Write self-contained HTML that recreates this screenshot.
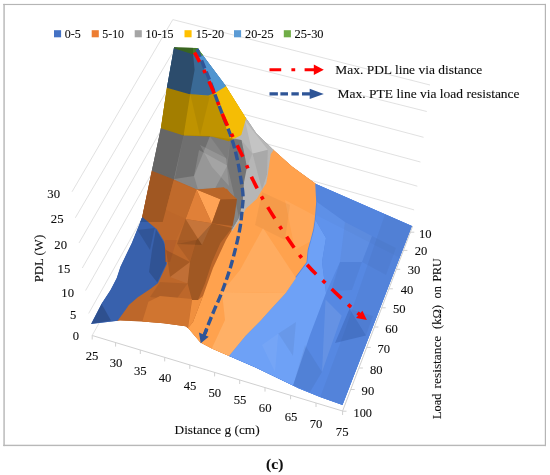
<!DOCTYPE html>
<html lang="en"><head><meta charset="utf-8"><title>Figure (c)</title>
<style>
html,body{margin:0;padding:0;background:#fff}
body{width:550px;height:475px;overflow:hidden}
svg{display:block}
</style></head>
<body>
<svg width="550" height="475" viewBox="0 0 550 475">
<defs><clipPath id="surf"><polygon points="174.0,47.5 197.6,48.0 202.7,55.0 225.5,85.5 245.5,117.5 256.5,133.5 273.0,149.5 292.0,166.5 316.0,184.0 412.0,226.0 342.5,405.0 320.0,397.0 299.0,388.5 277.3,378.0 255.5,367.5 229.0,356.0 211.8,348.4 200.4,342.5 188.5,328.5 185.5,326.2 163.6,323.3 142.0,321.5 120.0,320.5 91.0,324.0 101.5,303.8 110.5,290.0 116.7,278.0 120.5,266.4 126.0,255.0 131.8,243.0 137.0,230.0 142.0,217.8 152.0,170.0 161.0,127.5 167.0,87.0"/></clipPath><clipPath id="leftc"><polygon points="193.0,40.0 193.0,53.4 194.6,70.0 190.2,94.0 183.6,135.6 173.6,180.7 162.7,222.0 150.0,222.0 80.0,222.0 80.0,40.0"/></clipPath><clipPath id="rightc"><polygon points="196.5,40.0 197.0,53.0 214.5,94.0 229.5,137.5 241.5,140.0 247.0,167.0 244.0,182.0 242.7,202.0 239.0,218.0 232.0,230.0 226.0,240.0 213.0,268.0 203.0,296.0 193.0,322.0 188.0,328.0 186.0,340.0 200.0,430.0 430.0,430.0 430.0,40.0"/></clipPath></defs>
<rect x="0" y="0" width="550" height="475" fill="#fff"/>
<rect x="3.2" y="3.9" width="1.8" height="442.2" fill="#c6c6c6"/>
<rect x="3.2" y="3.9" width="542.8" height="1.15" fill="#b5b5b5"/>
<rect x="544.8" y="3.9" width="1.2" height="442.2" fill="#b5b5b5"/>
<rect x="3.2" y="444.7" width="542.8" height="1.4" fill="#b8b8b8"/>
<polyline points="92.2,335.4 186.0,168.0 410.8,233.0" fill="none" stroke="#d9d9d9" stroke-width="0.8"/>
<polyline points="88.7,313.4 184.0,144.0 414.1,209.9" fill="none" stroke="#d9d9d9" stroke-width="0.8"/>
<polyline points="85.6,290.5 182.0,120.0 417.3,186.2" fill="none" stroke="#d9d9d9" stroke-width="0.8"/>
<polyline points="82.3,268.0 180.0,97.0 420.4,162.0" fill="none" stroke="#d9d9d9" stroke-width="0.8"/>
<polyline points="79.0,243.0 177.5,72.0 423.6,137.3" fill="none" stroke="#d9d9d9" stroke-width="0.8"/>
<polyline points="75.3,217.8 175.0,48.5 426.8,111.5" fill="none" stroke="#d9d9d9" stroke-width="0.8"/>
<polyline points="72.0,191.8 172.8,19.6 430.0,85.0" fill="none" stroke="#d9d9d9" stroke-width="0.8"/>
<g clip-path="url(#surf)">
<g>
<polygon points="152.0,170.0 174.2,178.8 197.8,189.0 227.3,187.7 234.7,198.0 234.7,215.4 232.0,230.0 240.5,218.0 245.0,208.5 256.0,198.5 261.5,189.0 265.5,183.0 267.0,174.4 270.0,153.7 273.0,149.5 292.0,166.5 316.0,184.0 317.0,202.0 315.5,220.0 314.0,230.0 311.0,241.0 308.5,250.0 307.3,262.6 295.9,277.8 285.8,293.0 270.6,309.4 260.5,320.7 245.4,336.0 229.0,356.0 211.8,348.4 200.4,342.5 188.5,328.5 185.5,326.2 163.6,323.3 142.0,321.5 120.0,320.5 116.2,321.3 124.8,309.5 128.0,304.7 138.2,296.0 149.8,288.3 157.3,282.6 166.0,264.0 165.6,250.0 163.5,242.0 156.0,229.5 142.0,217.8" fill="#bd672a" stroke="#bd672a" stroke-width="1.6" stroke-linejoin="round"/>
<polygon points="316.0,184.0 317.0,202.0 315.5,220.0 314.0,230.0 311.0,241.0 308.5,250.0 307.3,262.6 295.9,277.8 285.8,293.0 270.6,309.4 260.5,320.7 245.4,336.0 229.0,356.0 255.5,367.5 277.3,378.0 299.0,388.5 320.0,397.0 342.5,405.0 412.0,226.0" fill="#5688e2" stroke="#5688e2" stroke-width="1.6" stroke-linejoin="round"/>
<polygon points="142.0,217.8 156.0,229.5 163.5,242.0 165.6,250.0 166.0,264.0 157.3,282.6 149.8,288.3 138.2,296.0 128.0,304.7 124.8,309.5 116.2,321.3 91.0,324.0 101.5,303.8 110.5,290.0 116.7,278.0 120.5,266.4 126.0,255.0 131.8,243.0 137.0,230.0" fill="#3861ad" stroke="#3861ad" stroke-width="1.6" stroke-linejoin="round"/>
<polygon points="161.0,127.5 183.0,134.6 212.6,136.0 228.8,140.5 240.6,134.6 245.5,117.5 273.0,149.5 270.0,153.7 267.0,174.4 265.5,183.0 261.5,189.0 256.0,198.5 245.0,208.5 240.5,218.0 232.0,230.0 234.7,215.4 234.7,198.0 227.3,187.7 197.8,189.0 174.2,178.8 152.0,170.0" fill="#868686" stroke="#868686" stroke-width="1.6" stroke-linejoin="round"/>
<polygon points="167.0,87.0 189.0,93.3 208.0,94.7 215.5,91.8 225.5,85.5 245.5,117.5 240.6,134.6 228.8,140.5 212.6,136.0 183.0,134.6 161.0,127.5" fill="#bf9300" stroke="#bf9300" stroke-width="1.6" stroke-linejoin="round"/>
<polygon points="174.0,47.5 193.0,53.4 202.7,55.0 225.5,85.5 225.5,85.5 215.5,91.8 208.0,94.7 189.0,93.3 167.0,87.0" fill="#3a6a96" stroke="#3a6a96" stroke-width="1.6" stroke-linejoin="round"/>
<polygon points="174.0,47.5 197.6,48.0 202.7,55.0 193.0,53.4" fill="#45782a" stroke="#45782a" stroke-width="1.6" stroke-linejoin="round"/>
</g>
<g clip-path="url(#leftc)">
<polygon points="152.0,170.0 174.2,178.8 197.8,189.0 227.3,187.7 234.7,198.0 234.7,215.4 232.0,230.0 240.5,218.0 245.0,208.5 256.0,198.5 261.5,189.0 265.5,183.0 267.0,174.4 270.0,153.7 273.0,149.5 292.0,166.5 316.0,184.0 317.0,202.0 315.5,220.0 314.0,230.0 311.0,241.0 308.5,250.0 307.3,262.6 295.9,277.8 285.8,293.0 270.6,309.4 260.5,320.7 245.4,336.0 229.0,356.0 211.8,348.4 200.4,342.5 188.5,328.5 185.5,326.2 163.6,323.3 142.0,321.5 120.0,320.5 116.2,321.3 124.8,309.5 128.0,304.7 138.2,296.0 149.8,288.3 157.3,282.6 166.0,264.0 165.6,250.0 163.5,242.0 156.0,229.5 142.0,217.8" fill="#a05722" stroke="#a05722" stroke-width="1.6" stroke-linejoin="round"/>
<polygon points="316.0,184.0 317.0,202.0 315.5,220.0 314.0,230.0 311.0,241.0 308.5,250.0 307.3,262.6 295.9,277.8 285.8,293.0 270.6,309.4 260.5,320.7 245.4,336.0 229.0,356.0 255.5,367.5 277.3,378.0 299.0,388.5 320.0,397.0 342.5,405.0 412.0,226.0" fill="#2f5597" stroke="#2f5597" stroke-width="1.6" stroke-linejoin="round"/>
<polygon points="142.0,217.8 156.0,229.5 163.5,242.0 165.6,250.0 166.0,264.0 157.3,282.6 149.8,288.3 138.2,296.0 128.0,304.7 124.8,309.5 116.2,321.3 91.0,324.0 101.5,303.8 110.5,290.0 116.7,278.0 120.5,266.4 126.0,255.0 131.8,243.0 137.0,230.0" fill="#2f5597" stroke="#2f5597" stroke-width="1.6" stroke-linejoin="round"/>
<polygon points="161.0,127.5 183.0,134.6 212.6,136.0 228.8,140.5 240.6,134.6 245.5,117.5 273.0,149.5 270.0,153.7 267.0,174.4 265.5,183.0 261.5,189.0 256.0,198.5 245.0,208.5 240.5,218.0 232.0,230.0 234.7,215.4 234.7,198.0 227.3,187.7 197.8,189.0 174.2,178.8 152.0,170.0" fill="#666666" stroke="#666666" stroke-width="1.6" stroke-linejoin="round"/>
<polygon points="167.0,87.0 189.0,93.3 208.0,94.7 215.5,91.8 225.5,85.5 245.5,117.5 240.6,134.6 228.8,140.5 212.6,136.0 183.0,134.6 161.0,127.5" fill="#a37e00" stroke="#a37e00" stroke-width="1.6" stroke-linejoin="round"/>
<polygon points="174.0,47.5 193.0,53.4 202.7,55.0 225.5,85.5 225.5,85.5 215.5,91.8 208.0,94.7 189.0,93.3 167.0,87.0" fill="#2c4c6c" stroke="#2c4c6c" stroke-width="1.6" stroke-linejoin="round"/>
<polygon points="174.0,47.5 197.6,48.0 202.7,55.0 193.0,53.4" fill="#3a6520" stroke="#3a6520" stroke-width="1.6" stroke-linejoin="round"/>
</g>
<g clip-path="url(#rightc)">
<polygon points="152.0,170.0 174.2,178.8 197.8,189.0 227.3,187.7 234.7,198.0 234.7,215.4 232.0,230.0 240.5,218.0 245.0,208.5 256.0,198.5 261.5,189.0 265.5,183.0 267.0,174.4 270.0,153.7 273.0,149.5 292.0,166.5 316.0,184.0 317.0,202.0 315.5,220.0 314.0,230.0 311.0,241.0 308.5,250.0 307.3,262.6 295.9,277.8 285.8,293.0 270.6,309.4 260.5,320.7 245.4,336.0 229.0,356.0 211.8,348.4 200.4,342.5 188.5,328.5 185.5,326.2 163.6,323.3 142.0,321.5 120.0,320.5 116.2,321.3 124.8,309.5 128.0,304.7 138.2,296.0 149.8,288.3 157.3,282.6 166.0,264.0 165.6,250.0 163.5,242.0 156.0,229.5 142.0,217.8" fill="#ffa24e" stroke="#ffa24e" stroke-width="1.6" stroke-linejoin="round"/>
<polygon points="316.0,184.0 317.0,202.0 315.5,220.0 314.0,230.0 311.0,241.0 308.5,250.0 307.3,262.6 295.9,277.8 285.8,293.0 270.6,309.4 260.5,320.7 245.4,336.0 229.0,356.0 255.5,367.5 277.3,378.0 299.0,388.5 320.0,397.0 342.5,405.0 412.0,226.0" fill="#5688e2" stroke="#5688e2" stroke-width="1.6" stroke-linejoin="round"/>
<polygon points="142.0,217.8 156.0,229.5 163.5,242.0 165.6,250.0 166.0,264.0 157.3,282.6 149.8,288.3 138.2,296.0 128.0,304.7 124.8,309.5 116.2,321.3 91.0,324.0 101.5,303.8 110.5,290.0 116.7,278.0 120.5,266.4 126.0,255.0 131.8,243.0 137.0,230.0" fill="#5c8ee8" stroke="#5c8ee8" stroke-width="1.6" stroke-linejoin="round"/>
<polygon points="161.0,127.5 183.0,134.6 212.6,136.0 228.8,140.5 240.6,134.6 245.5,117.5 273.0,149.5 270.0,153.7 267.0,174.4 265.5,183.0 261.5,189.0 256.0,198.5 245.0,208.5 240.5,218.0 232.0,230.0 234.7,215.4 234.7,198.0 227.3,187.7 197.8,189.0 174.2,178.8 152.0,170.0" fill="#b6b6b6" stroke="#b6b6b6" stroke-width="1.6" stroke-linejoin="round"/>
<polygon points="167.0,87.0 189.0,93.3 208.0,94.7 215.5,91.8 225.5,85.5 245.5,117.5 240.6,134.6 228.8,140.5 212.6,136.0 183.0,134.6 161.0,127.5" fill="#f5bd05" stroke="#f5bd05" stroke-width="1.6" stroke-linejoin="round"/>
<polygon points="174.0,47.5 193.0,53.4 202.7,55.0 225.5,85.5 225.5,85.5 215.5,91.8 208.0,94.7 189.0,93.3 167.0,87.0" fill="#4f95d0" stroke="#4f95d0" stroke-width="1.6" stroke-linejoin="round"/>
<polygon points="174.0,47.5 197.6,48.0 202.7,55.0 193.0,53.4" fill="#5a9a33" stroke="#5a9a33" stroke-width="1.6" stroke-linejoin="round"/>
</g>
<polygon points="183.6,135.6 210.0,136.0 194.0,176.0 174.5,179.0" fill="#000000" fill-opacity="0.17"/>
<polygon points="200.0,145.0 226.0,158.0 229.0,186.0 212.0,167.0" fill="#ffffff" fill-opacity="0.13"/>
<polygon points="209.6,136.0 230.3,139.0 227.3,160.0" fill="#000000" fill-opacity="0.08"/>
<polygon points="199.0,150.0 227.3,165.5 215.0,188.5 197.8,189.0 194.0,176.0" fill="#ffffff" fill-opacity="0.14"/>
<polygon points="230.3,139.0 241.5,140.0 247.0,167.0 244.0,182.0 242.7,202.0 239.0,218.0 234.7,198.0 227.3,165.5" fill="#000000" fill-opacity="0.12"/>
<polygon points="245.0,120.5 267.8,149.8 252.5,153.6" fill="#ffffff" fill-opacity="0.2"/>
<polygon points="252.5,153.6 267.8,149.8 267.0,174.4 262.0,190.0" fill="#000000" fill-opacity="0.07"/>
<polygon points="241.5,140.0 252.5,153.6 247.0,167.0" fill="#000000" fill-opacity="0.05"/>
<polygon points="190.2,94.0 209.8,96.4 200.0,136.0" fill="#000000" fill-opacity="0.06"/>
<polygon points="196.5,189.5 220.5,199.3 211.8,223.3" fill="#ffa355"/>
<polygon points="196.5,189.5 211.8,223.3 185.6,219.0" fill="#e08038"/>
<polygon points="220.5,199.3 237.0,199.0 234.7,215.0 232.5,226.0 211.8,223.3" fill="#9c5522"/>
<polygon points="196.5,189.5 223.8,187.3 237.0,199.0 220.5,199.3" fill="#b96628"/>
<polygon points="173.6,180.7 196.5,189.5 185.6,219.0 166.0,210.0" fill="#c06a2b"/>
<polygon points="196.4,240.0 211.8,223.3 232.0,228.0 220.4,243.0 212.0,262.0 205.0,283.6 198.0,300.0 192.0,300.0 187.6,283.6 190.0,262.0" fill="#a05823"/>
<polygon points="164.7,240.0 176.7,240.0 170.0,262.0 165.4,262.0" fill="#b5602a"/>
<polygon points="185.6,219.0 211.8,223.3 196.4,240.0 176.0,240.0" fill="#c26b2c"/>
<polygon points="185.6,219.0 202.0,245.0 177.0,244.0" fill="#000000" fill-opacity="0.13"/>
<polygon points="185.6,219.0 211.8,223.3 202.0,245.0" fill="#ffffff" fill-opacity="0.07"/>
<polygon points="166.0,250.0 190.0,262.0 170.0,277.0" fill="#000000" fill-opacity="0.12"/>
<polygon points="177.0,244.0 196.4,240.0 190.0,262.0" fill="#000000" fill-opacity="0.08"/>
<polygon points="160.0,282.0 187.6,283.6 176.0,300.0 150.0,297.0" fill="#000000" fill-opacity="0.07"/>
<polygon points="170.0,277.0 190.0,262.0 187.6,283.6" fill="#ffffff" fill-opacity="0.06"/>
<polygon points="148.4,301.8 160.0,296.0 192.0,299.0 188.0,328.0 142.0,322.5" fill="#d07530"/>
<polygon points="192.0,300.0 198.0,300.0 203.0,296.0 193.0,322.0 188.0,328.0" fill="#f0903f"/>
<polygon points="137.4,230.0 154.7,228.0 150.0,250.0" fill="#000000" fill-opacity="0.12"/>
<polygon points="101.5,303.8 111.0,320.5 91.0,324.0" fill="#000000" fill-opacity="0.17"/>
<polygon points="156.0,229.5 163.5,242.0 165.6,250.0 166.0,264.0 157.3,282.6 149.0,272.0 152.0,250.0" fill="#000000" fill-opacity="0.14"/>
<polygon points="315.5,220.0 314.0,230.0 311.0,241.0 308.5,250.0 307.3,262.6 295.9,277.8 285.8,293.0 270.6,309.4 260.5,320.7 245.4,336.0 229.0,356.0 255.5,367.5 277.3,378.0 293.0,385.5 310.0,335.0 326.0,293.0 322.0,262.0 326.0,238.0" fill="#6ea1f6"/>
<polygon points="317.0,202.0 345.0,222.0 340.0,262.0 326.0,293.0 322.0,262.0 326.0,238.0 315.5,220.0" fill="#6093ec"/>
<polygon points="349.5,308.7 366.0,335.5 335.0,343.0" fill="#4876cc"/>
<polygon points="349.5,308.7 373.0,316.0 366.0,335.5" fill="#000000" fill-opacity="0.04"/>
<polygon points="412.0,226.0 342.5,405.0 320.0,397.5 345.0,330.0 385.0,214.0" fill="#000000" fill-opacity="0.03"/>
<polygon points="316.0,184.0 412.0,226.0 400.0,258.0 316.0,215.0" fill="#000000" fill-opacity="0.02"/>
<polygon points="278.3,333.4 296.0,322.0 293.0,356.0" fill="#000000" fill-opacity="0.05"/>
<polygon points="262.0,345.0 278.3,333.4 275.0,372.0" fill="#ffffff" fill-opacity="0.05"/>
<polygon points="325.5,299.5 341.7,315.7 322.0,372.0" fill="#ffffff" fill-opacity="0.09"/>
<polygon points="305.0,345.0 322.0,372.0 310.0,392.0 293.0,385.5" fill="#000000" fill-opacity="0.05"/>
<polygon points="345.0,222.0 372.0,236.0 362.0,262.0 340.0,262.0" fill="#ffffff" fill-opacity="0.05"/>
<polygon points="372.0,236.0 396.0,248.0 386.0,275.0 362.0,262.0" fill="#000000" fill-opacity="0.03"/>
<polygon points="340.0,262.0 362.0,262.0 352.0,290.0 331.0,291.0" fill="#000000" fill-opacity="0.04"/>
<polygon points="222.0,292.0 285.8,293.0 270.6,309.4 260.5,320.7 245.4,336.0 229.0,356.0 211.8,348.4 225.0,320.0" fill="#ffb066"/>
<polygon points="263.0,228.0 296.0,278.0 285.8,293.0 222.0,292.0 240.0,270.0" fill="#ffac60"/>
<polygon points="262.0,192.0 290.0,205.0 285.0,240.0 255.0,225.0" fill="#000000" fill-opacity="0.04"/>
<polygon points="285.0,200.0 314.5,215.4 311.0,240.9 295.0,250.0" fill="#ffffff" fill-opacity="0.07"/>
</g>
<path d="M197.0 49.0C198.0 51.5 200.9 58.8 203.0 64.0C205.1 69.2 206.8 72.7 209.6 80.0C212.4 87.3 216.3 98.2 220.0 108.0C223.7 117.8 229.0 130.7 231.8 139.0C234.6 147.3 235.5 151.6 237.0 158.0C238.5 164.4 239.6 171.1 240.6 177.3C241.6 183.5 242.7 189.9 243.0 195.0C243.3 200.1 242.9 201.9 242.3 207.8C241.7 213.8 241.3 221.4 239.5 230.7C237.7 240.0 234.4 253.6 231.5 263.8C228.6 274.0 224.8 284.2 222.0 291.8C219.2 299.4 216.7 304.2 214.4 309.6C212.2 315.0 210.1 320.0 208.5 324.0C206.9 328.0 205.6 331.9 205.0 333.5" fill="none" stroke="#2f5597" stroke-width="3.4" stroke-dasharray="8.6 3.6" stroke-dashoffset="0"/>
<polygon points="200.8,343.2 198.9,332.4 208.7,336.8" fill="#2f5597"/>
<line x1="206.6" y1="329.3" x2="204" y2="335.5" stroke="#2f5597" stroke-width="3.4"/>
<path d="M194.5 52.5C196.1 55.4 200.5 63.1 203.8 70.0C207.1 76.9 211.1 86.0 214.5 94.0C217.9 102.0 220.9 110.8 224.0 118.0C227.1 125.2 230.2 131.2 233.0 137.0C235.8 142.8 238.5 147.8 241.0 153.0C243.5 158.2 246.0 164.0 248.0 168.5C250.0 173.0 250.2 174.4 253.0 180.0C255.8 185.6 258.9 192.3 264.5 201.8C270.1 211.3 279.8 226.6 286.8 237.0C293.8 247.4 300.1 256.3 306.5 264.0C312.9 271.7 318.4 276.2 325.4 283.0C332.4 289.8 342.5 299.4 348.3 304.7C354.1 310.0 358.1 313.3 360.0 315.0" fill="none" stroke="#ff0000" stroke-width="3.6" stroke-dasharray="13.2 9 3.6 9" stroke-dashoffset="2.5"/>
<polygon points="366.9,320.1 356.1,318 362.4,310.7" fill="#ff0000"/>
<line x1="92.2" y1="335.5" x2="342.6" y2="411" stroke="#d0d0d0" stroke-width="1"/>
<line x1="342.6" y1="411" x2="412.7" y2="226" stroke="#d0d0d0" stroke-width="1"/>
<line x1="92.2" y1="335.5" x2="92.2" y2="339.5" stroke="#d0d0d0" stroke-width="1"/>
<line x1="115.6" y1="342.6" x2="115.6" y2="346.6" stroke="#d0d0d0" stroke-width="1"/>
<line x1="140.3" y1="350.0" x2="140.3" y2="354.0" stroke="#d0d0d0" stroke-width="1"/>
<line x1="164.7" y1="357.4" x2="164.7" y2="361.4" stroke="#d0d0d0" stroke-width="1"/>
<line x1="189.8" y1="364.9" x2="189.8" y2="368.9" stroke="#d0d0d0" stroke-width="1"/>
<line x1="214.6" y1="372.4" x2="214.6" y2="376.4" stroke="#d0d0d0" stroke-width="1"/>
<line x1="239.7" y1="380.0" x2="239.7" y2="384.0" stroke="#d0d0d0" stroke-width="1"/>
<line x1="265" y1="387.6" x2="265" y2="391.6" stroke="#d0d0d0" stroke-width="1"/>
<line x1="290.6" y1="395.3" x2="290.6" y2="399.3" stroke="#d0d0d0" stroke-width="1"/>
<line x1="316" y1="403.0" x2="316" y2="407.0" stroke="#d0d0d0" stroke-width="1"/>
<line x1="342.6" y1="411.0" x2="342.6" y2="415.0" stroke="#d0d0d0" stroke-width="1"/>
<line x1="410.3" y1="232.2" x2="414.3" y2="232.2" stroke="#d0d0d0" stroke-width="1"/>
<line x1="403.4" y1="250.4" x2="407.4" y2="250.4" stroke="#d0d0d0" stroke-width="1"/>
<line x1="396.2" y1="269.3" x2="400.2" y2="269.3" stroke="#d0d0d0" stroke-width="1"/>
<line x1="388.9" y1="288.8" x2="392.9" y2="288.8" stroke="#d0d0d0" stroke-width="1"/>
<line x1="381.7" y1="307.8" x2="385.7" y2="307.8" stroke="#d0d0d0" stroke-width="1"/>
<line x1="374.4" y1="327" x2="378.4" y2="327" stroke="#d0d0d0" stroke-width="1"/>
<line x1="366.7" y1="347.4" x2="370.7" y2="347.4" stroke="#d0d0d0" stroke-width="1"/>
<line x1="358.9" y1="368" x2="362.9" y2="368" stroke="#d0d0d0" stroke-width="1"/>
<line x1="350.7" y1="389.5" x2="354.7" y2="389.5" stroke="#d0d0d0" stroke-width="1"/>
<line x1="342.5" y1="411.2" x2="346.5" y2="411.2" stroke="#d0d0d0" stroke-width="1"/>
<rect x="54" y="30.2" width="7.1" height="7.1" fill="#4472C4"/>
<text x="64.7" y="37.9" font-size="13" text-anchor="start" fill="#0d0d0d" stroke="#0d0d0d" stroke-width="0.1" style="font-family:'Liberation Serif','DejaVu Serif',serif" xml:space="preserve" textLength="16" lengthAdjust="spacingAndGlyphs">0-5</text>
<rect x="91.7" y="30.2" width="7.1" height="7.1" fill="#ED7D31"/>
<text x="102.3" y="37.9" font-size="13" text-anchor="start" fill="#0d0d0d" stroke="#0d0d0d" stroke-width="0.1" style="font-family:'Liberation Serif','DejaVu Serif',serif" xml:space="preserve" textLength="21.7" lengthAdjust="spacingAndGlyphs">5-10</text>
<rect x="134.7" y="30.2" width="7.1" height="7.1" fill="#A5A5A5"/>
<text x="145.6" y="37.9" font-size="13" text-anchor="start" fill="#0d0d0d" stroke="#0d0d0d" stroke-width="0.1" style="font-family:'Liberation Serif','DejaVu Serif',serif" xml:space="preserve" textLength="28" lengthAdjust="spacingAndGlyphs">10-15</text>
<rect x="184.5" y="30.2" width="7.1" height="7.1" fill="#FFC000"/>
<text x="195.7" y="37.9" font-size="13" text-anchor="start" fill="#0d0d0d" stroke="#0d0d0d" stroke-width="0.1" style="font-family:'Liberation Serif','DejaVu Serif',serif" xml:space="preserve" textLength="28.4" lengthAdjust="spacingAndGlyphs">15-20</text>
<rect x="234" y="30.2" width="7.1" height="7.1" fill="#5B9BD5"/>
<text x="245.1" y="37.9" font-size="13" text-anchor="start" fill="#0d0d0d" stroke="#0d0d0d" stroke-width="0.1" style="font-family:'Liberation Serif','DejaVu Serif',serif" xml:space="preserve" textLength="28.5" lengthAdjust="spacingAndGlyphs">20-25</text>
<rect x="283.8" y="30.2" width="7.1" height="7.1" fill="#70AD47"/>
<text x="294.6" y="37.9" font-size="13" text-anchor="start" fill="#0d0d0d" stroke="#0d0d0d" stroke-width="0.1" style="font-family:'Liberation Serif','DejaVu Serif',serif" xml:space="preserve" textLength="29" lengthAdjust="spacingAndGlyphs">25-30</text>
<text x="60" y="197.8" font-size="13" text-anchor="end" fill="#0d0d0d" stroke="#0d0d0d" stroke-width="0.1" style="font-family:'Liberation Serif','DejaVu Serif',serif" xml:space="preserve" textLength="12.7" lengthAdjust="spacingAndGlyphs">30</text>
<text x="63.5" y="223.3" font-size="13" text-anchor="end" fill="#0d0d0d" stroke="#0d0d0d" stroke-width="0.1" style="font-family:'Liberation Serif','DejaVu Serif',serif" xml:space="preserve" textLength="12.7" lengthAdjust="spacingAndGlyphs">25</text>
<text x="67" y="248.70000000000002" font-size="13" text-anchor="end" fill="#0d0d0d" stroke="#0d0d0d" stroke-width="0.1" style="font-family:'Liberation Serif','DejaVu Serif',serif" xml:space="preserve" textLength="12.7" lengthAdjust="spacingAndGlyphs">20</text>
<text x="70.3" y="273.2" font-size="13" text-anchor="end" fill="#0d0d0d" stroke="#0d0d0d" stroke-width="0.1" style="font-family:'Liberation Serif','DejaVu Serif',serif" xml:space="preserve" textLength="12.7" lengthAdjust="spacingAndGlyphs">15</text>
<text x="74" y="297.0" font-size="13" text-anchor="end" fill="#0d0d0d" stroke="#0d0d0d" stroke-width="0.1" style="font-family:'Liberation Serif','DejaVu Serif',serif" xml:space="preserve" textLength="12.7" lengthAdjust="spacingAndGlyphs">10</text>
<text x="76.2" y="318.59999999999997" font-size="13" text-anchor="end" fill="#0d0d0d" stroke="#0d0d0d" stroke-width="0.1" style="font-family:'Liberation Serif','DejaVu Serif',serif" xml:space="preserve" textLength="6.3" lengthAdjust="spacingAndGlyphs">5</text>
<text x="79" y="340.2" font-size="13" text-anchor="end" fill="#0d0d0d" stroke="#0d0d0d" stroke-width="0.1" style="font-family:'Liberation Serif','DejaVu Serif',serif" xml:space="preserve" textLength="6.3" lengthAdjust="spacingAndGlyphs">0</text>
<text x="92" y="360.2" font-size="13" text-anchor="middle" fill="#0d0d0d" stroke="#0d0d0d" stroke-width="0.1" style="font-family:'Liberation Serif','DejaVu Serif',serif" xml:space="preserve" textLength="12.7" lengthAdjust="spacingAndGlyphs">25</text>
<text x="116" y="367.09999999999997" font-size="13" text-anchor="middle" fill="#0d0d0d" stroke="#0d0d0d" stroke-width="0.1" style="font-family:'Liberation Serif','DejaVu Serif',serif" xml:space="preserve" textLength="12.7" lengthAdjust="spacingAndGlyphs">30</text>
<text x="140.3" y="374.7" font-size="13" text-anchor="middle" fill="#0d0d0d" stroke="#0d0d0d" stroke-width="0.1" style="font-family:'Liberation Serif','DejaVu Serif',serif" xml:space="preserve" textLength="12.7" lengthAdjust="spacingAndGlyphs">35</text>
<text x="165" y="382.4" font-size="13" text-anchor="middle" fill="#0d0d0d" stroke="#0d0d0d" stroke-width="0.1" style="font-family:'Liberation Serif','DejaVu Serif',serif" xml:space="preserve" textLength="12.7" lengthAdjust="spacingAndGlyphs">40</text>
<text x="190" y="389.9" font-size="13" text-anchor="middle" fill="#0d0d0d" stroke="#0d0d0d" stroke-width="0.1" style="font-family:'Liberation Serif','DejaVu Serif',serif" xml:space="preserve" textLength="12.7" lengthAdjust="spacingAndGlyphs">45</text>
<text x="214.8" y="396.59999999999997" font-size="13" text-anchor="middle" fill="#0d0d0d" stroke="#0d0d0d" stroke-width="0.1" style="font-family:'Liberation Serif','DejaVu Serif',serif" xml:space="preserve" textLength="12.7" lengthAdjust="spacingAndGlyphs">50</text>
<text x="240" y="403.79999999999995" font-size="13" text-anchor="middle" fill="#0d0d0d" stroke="#0d0d0d" stroke-width="0.1" style="font-family:'Liberation Serif','DejaVu Serif',serif" xml:space="preserve" textLength="12.7" lengthAdjust="spacingAndGlyphs">55</text>
<text x="265.2" y="411.9" font-size="13" text-anchor="middle" fill="#0d0d0d" stroke="#0d0d0d" stroke-width="0.1" style="font-family:'Liberation Serif','DejaVu Serif',serif" xml:space="preserve" textLength="12.7" lengthAdjust="spacingAndGlyphs">60</text>
<text x="291" y="420.59999999999997" font-size="13" text-anchor="middle" fill="#0d0d0d" stroke="#0d0d0d" stroke-width="0.1" style="font-family:'Liberation Serif','DejaVu Serif',serif" xml:space="preserve" textLength="12.7" lengthAdjust="spacingAndGlyphs">65</text>
<text x="316" y="428.2" font-size="13" text-anchor="middle" fill="#0d0d0d" stroke="#0d0d0d" stroke-width="0.1" style="font-family:'Liberation Serif','DejaVu Serif',serif" xml:space="preserve" textLength="12.7" lengthAdjust="spacingAndGlyphs">70</text>
<text x="342.2" y="435.59999999999997" font-size="13" text-anchor="middle" fill="#0d0d0d" stroke="#0d0d0d" stroke-width="0.1" style="font-family:'Liberation Serif','DejaVu Serif',serif" xml:space="preserve" textLength="12.7" lengthAdjust="spacingAndGlyphs">75</text>
<text x="419" y="237.6" font-size="13" text-anchor="start" fill="#0d0d0d" stroke="#0d0d0d" stroke-width="0.1" style="font-family:'Liberation Serif','DejaVu Serif',serif" xml:space="preserve" textLength="12.6" lengthAdjust="spacingAndGlyphs">10</text>
<text x="414.8" y="255.4" font-size="13" text-anchor="start" fill="#0d0d0d" stroke="#0d0d0d" stroke-width="0.1" style="font-family:'Liberation Serif','DejaVu Serif',serif" xml:space="preserve" textLength="12.6" lengthAdjust="spacingAndGlyphs">20</text>
<text x="407.8" y="274.2" font-size="13" text-anchor="start" fill="#0d0d0d" stroke="#0d0d0d" stroke-width="0.1" style="font-family:'Liberation Serif','DejaVu Serif',serif" xml:space="preserve" textLength="12.6" lengthAdjust="spacingAndGlyphs">30</text>
<text x="400.7" y="293.9" font-size="13" text-anchor="start" fill="#0d0d0d" stroke="#0d0d0d" stroke-width="0.1" style="font-family:'Liberation Serif','DejaVu Serif',serif" xml:space="preserve" textLength="12.6" lengthAdjust="spacingAndGlyphs">40</text>
<text x="393" y="312.9" font-size="13" text-anchor="start" fill="#0d0d0d" stroke="#0d0d0d" stroke-width="0.1" style="font-family:'Liberation Serif','DejaVu Serif',serif" xml:space="preserve" textLength="12.6" lengthAdjust="spacingAndGlyphs">50</text>
<text x="385.3" y="332.59999999999997" font-size="13" text-anchor="start" fill="#0d0d0d" stroke="#0d0d0d" stroke-width="0.1" style="font-family:'Liberation Serif','DejaVu Serif',serif" xml:space="preserve" textLength="12.6" lengthAdjust="spacingAndGlyphs">60</text>
<text x="377.5" y="353.0" font-size="13" text-anchor="start" fill="#0d0d0d" stroke="#0d0d0d" stroke-width="0.1" style="font-family:'Liberation Serif','DejaVu Serif',serif" xml:space="preserve" textLength="12.6" lengthAdjust="spacingAndGlyphs">70</text>
<text x="370" y="373.7" font-size="13" text-anchor="start" fill="#0d0d0d" stroke="#0d0d0d" stroke-width="0.1" style="font-family:'Liberation Serif','DejaVu Serif',serif" xml:space="preserve" textLength="12.6" lengthAdjust="spacingAndGlyphs">80</text>
<text x="361.6" y="394.7" font-size="13" text-anchor="start" fill="#0d0d0d" stroke="#0d0d0d" stroke-width="0.1" style="font-family:'Liberation Serif','DejaVu Serif',serif" xml:space="preserve" textLength="12.6" lengthAdjust="spacingAndGlyphs">90</text>
<text x="353.5" y="416.7" font-size="13" text-anchor="start" fill="#0d0d0d" stroke="#0d0d0d" stroke-width="0.1" style="font-family:'Liberation Serif','DejaVu Serif',serif" xml:space="preserve" textLength="18.4" lengthAdjust="spacingAndGlyphs">100</text>
<text x="174.5" y="433.6" font-size="13.4" text-anchor="start" fill="#0d0d0d" stroke="#0d0d0d" stroke-width="0.1" style="font-family:'Liberation Serif','DejaVu Serif',serif" xml:space="preserve" textLength="85.2" lengthAdjust="spacingAndGlyphs">Distance g (cm)</text>
<g transform="translate(42.7,282.3) rotate(-90)">
<text x="0" y="0" font-size="13.4" text-anchor="start" fill="#0d0d0d" stroke="#0d0d0d" stroke-width="0.1" style="font-family:'Liberation Serif','DejaVu Serif',serif" xml:space="preserve" textLength="47.5" lengthAdjust="spacingAndGlyphs">PDL (W)</text>
</g>
<g transform="translate(440.7,418.9) rotate(-90)">
<text x="0" y="0" font-size="13.4" fill="#0d0d0d" stroke="#0d0d0d" stroke-width="0.1" style="font-family:'Liberation Serif','DejaVu Serif',serif" xml:space="preserve"><tspan x="0" textLength="25.3" lengthAdjust="spacingAndGlyphs">Load</tspan> <tspan x="30.5" textLength="52.7" lengthAdjust="spacingAndGlyphs">resistance</tspan>  <tspan x="89.9" textLength="24" lengthAdjust="spacingAndGlyphs">(k&#937;)</tspan> <tspan x="120.5" textLength="12.4" lengthAdjust="spacingAndGlyphs">on</tspan> <tspan x="137.3" textLength="23.2" lengthAdjust="spacingAndGlyphs">PRU</tspan></text>
</g>
<text x="335.3" y="74.1" font-size="13.4" text-anchor="start" fill="#0d0d0d" stroke="#0d0d0d" stroke-width="0.1" style="font-family:'Liberation Serif','DejaVu Serif',serif" xml:space="preserve" textLength="147" lengthAdjust="spacingAndGlyphs">Max. PDL line via distance</text>
<text x="337.6" y="97.8" font-size="13.4" text-anchor="start" fill="#0d0d0d" stroke="#0d0d0d" stroke-width="0.1" style="font-family:'Liberation Serif','DejaVu Serif',serif" xml:space="preserve" textLength="182" lengthAdjust="spacingAndGlyphs">Max. PTE line via load resistance</text>
<path d="M269.5 69.8H281.2M291.4 69.8H295.2M304.6 69.8H315" stroke="#ff0000" stroke-width="3.1" fill="none"/>
<polygon points="313.8,64.6 323.8,69.8 313.8,75" fill="#ff0000"/>
<path d="M269.5 93.9H277.9M280.4 93.9H288M291.4 93.9H298.8M302 93.9H310.5" stroke="#2f5597" stroke-width="3.1" fill="none"/>
<polygon points="309.7,88.7 323.8,93.9 309.7,99.1" fill="#2f5597"/>
<text x="274.7" y="468.6" font-size="15.6" text-anchor="middle" fill="#111" stroke="#111" stroke-width="0.1" style="font-family:'Liberation Serif','DejaVu Serif',serif" xml:space="preserve" textLength="17.3" lengthAdjust="spacingAndGlyphs" font-weight="bold">(c)</text>
</svg>
</body></html>
